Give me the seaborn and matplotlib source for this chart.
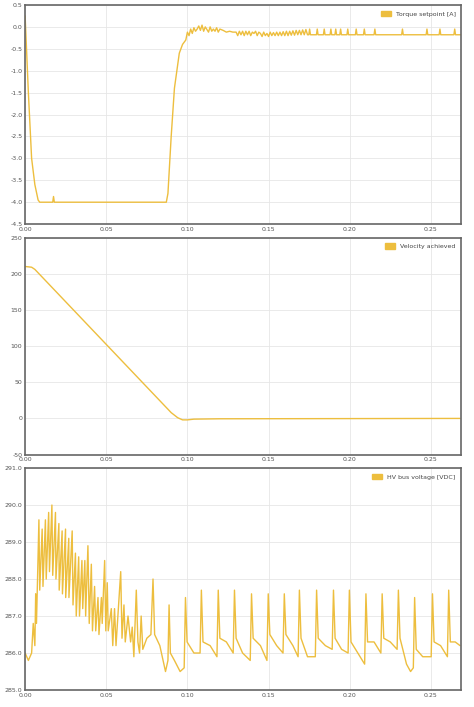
import numpy as np
import pandas as pd
import seaborn as sns
from matplotlib import pyplot as plt
from matplotlib.patches import Patch
from matplotlib.ticker import FormatStrFormatter

# ---------- DATA ----------
torque_t = [0.0, 0.002, 0.004, 0.006, 0.008, 0.009, 0.017, 0.0175, 0.018, 0.087, 0.088, 0.090, 0.092,
            0.095, 0.097, 0.099, 0.100, 0.101, 0.102, 0.103, 0.104, 0.105, 0.106, 0.107, 0.108, 0.109,
            0.110, 0.111, 0.112, 0.113, 0.114, 0.115, 0.116, 0.117, 0.118, 0.119, 0.120, 0.122, 0.124,
            0.126, 0.128, 0.130, 0.131, 0.132, 0.133, 0.134, 0.135, 0.136, 0.137, 0.138, 0.139, 0.140,
            0.141, 0.142, 0.143, 0.144, 0.145, 0.146, 0.147, 0.148, 0.149, 0.150, 0.151, 0.152, 0.153,
            0.154, 0.155, 0.156, 0.157, 0.158, 0.159, 0.160, 0.161, 0.162, 0.163, 0.164, 0.165, 0.166,
            0.167, 0.168, 0.169, 0.170, 0.171, 0.172, 0.173, 0.174,
            0.1748, 0.1753, 0.1758, 0.1795, 0.1800, 0.1805, 0.1838, 0.1843, 0.1848, 0.1879, 0.1884,
            0.1889, 0.1909, 0.1914, 0.1919, 0.1939, 0.1944, 0.1949, 0.1983, 0.1988, 0.1993, 0.2035,
            0.2040, 0.2045, 0.2085, 0.2090, 0.2095, 0.2150, 0.2155, 0.2160, 0.2320, 0.2325, 0.2330,
            0.2471, 0.2476, 0.2481, 0.2551, 0.2556, 0.2561, 0.2642, 0.2647, 0.2652, 0.2687]
torque_v = [0.25, -1.5, -3.0, -3.6, -3.95, -4.0, -4.0, -3.87, -4.0, -4.0, -3.8, -2.5, -1.4,
            -0.6, -0.4, -0.3, -0.12, -0.2, -0.05, -0.15, -0.02, -0.1, -0.05, 0.02, -0.08, 0.04,
            -0.1, 0.0, -0.06, -0.12, 0.0, -0.1, -0.05, -0.1, -0.02, -0.12, -0.05, -0.08, -0.12,
            -0.1, -0.12, -0.12, -0.2, -0.1, -0.18, -0.1, -0.2, -0.1, -0.18, -0.1, -0.2, -0.12,
            -0.15, -0.1, -0.2, -0.12, -0.15, -0.22, -0.12, -0.2, -0.15, -0.22, -0.12, -0.2, -0.13,
            -0.2, -0.12, -0.2, -0.12, -0.2, -0.11, -0.2, -0.1, -0.2, -0.1, -0.19, -0.09, -0.19,
            -0.08, -0.18, -0.08, -0.18, -0.07, -0.18, -0.06, -0.18,
            -0.18, -0.05, -0.18, -0.18, -0.05, -0.18, -0.18, -0.05, -0.18, -0.18, -0.05,
            -0.18, -0.18, -0.05, -0.18, -0.18, -0.05, -0.18, -0.18, -0.05, -0.18, -0.18,
            -0.05, -0.18, -0.18, -0.05, -0.18, -0.18, -0.05, -0.18, -0.18, -0.05, -0.18,
            -0.18, -0.05, -0.18, -0.18, -0.05, -0.18, -0.18, -0.05, -0.18, -0.18]

velocity_t = [0.0, 0.004, 0.006, 0.090, 0.094, 0.097, 0.100, 0.104, 0.120, 0.268]
velocity_v = [210, 209, 206, 8, 1, -2, -2, -1, -0.5, 0]

voltage_t = [0.000, 0.002, 0.004, 0.005, 0.006, 0.0065, 0.007, 0.0085, 0.009, 0.0105, 0.011, 0.0125,
             0.013, 0.0145, 0.015, 0.0165, 0.017, 0.0187, 0.019, 0.0208, 0.021, 0.0228, 0.023, 0.0249,
             0.025, 0.0269, 0.027, 0.029, 0.0295, 0.031, 0.0315, 0.033, 0.0335, 0.035, 0.0355, 0.0368,
             0.0373, 0.0387, 0.0395, 0.0408, 0.0415, 0.0428, 0.0435, 0.0449, 0.0455, 0.047, 0.0475,
             0.049, 0.0497, 0.0506, 0.0512, 0.0531, 0.054, 0.0551, 0.056, 0.0589, 0.0597, 0.0609,
             0.0617, 0.0634, 0.065, 0.066, 0.067, 0.0685, 0.0695, 0.0705, 0.0715, 0.0725, 0.075,
             0.0775, 0.0788, 0.0798, 0.083, 0.0865, 0.0880, 0.0887, 0.0895, 0.092, 0.0955, 0.0980,
             0.0988, 0.0998, 0.104, 0.1078, 0.1086, 0.1096, 0.114, 0.1182, 0.119, 0.120, 0.124, 0.1282,
             0.129, 0.130, 0.134, 0.1387, 0.1395, 0.1405, 0.145, 0.1490, 0.1498, 0.1508, 0.155, 0.1589,
             0.1597, 0.1607, 0.165, 0.1682, 0.169, 0.170, 0.174, 0.1788, 0.1796, 0.1806, 0.185, 0.1892,
             0.190, 0.191, 0.195, 0.1990, 0.1998, 0.2008, 0.205, 0.2092, 0.210, 0.211, 0.215, 0.2192,
             0.220, 0.221, 0.225, 0.2292, 0.230, 0.231, 0.235, 0.2375, 0.2392, 0.240, 0.241, 0.245,
             0.2502, 0.251, 0.252, 0.256, 0.2602, 0.261, 0.262, 0.265, 0.268]
voltage_v = [286.0, 285.8, 286.0, 286.8, 286.2, 287.6, 286.8, 289.6, 287.7, 289.35, 287.8, 289.6,
             288.0, 289.8, 288.2, 290.0, 288.1, 289.8, 288.0, 289.5, 287.7, 289.3, 287.6, 289.35,
             287.5, 289.1, 287.5, 289.3, 287.3, 288.7, 287.0, 288.6, 287.0, 288.5, 287.2, 288.5,
             287.0, 288.9, 286.8, 288.4, 286.6, 287.8, 286.6, 287.5, 286.5, 287.5, 286.8,
             288.5, 286.6, 287.9, 286.6, 287.2, 286.2, 287.2, 286.2, 288.2, 286.4, 287.3,
             286.3, 287.0, 286.3, 286.7, 285.9, 287.7, 286.3, 286.0, 287.0, 286.1, 286.4,
             286.5, 288.0, 286.5, 286.2, 285.5, 285.8, 287.3, 286.0, 285.8, 285.5, 285.6,
             287.5, 286.3, 286.0, 286.0, 287.7, 286.3, 286.2, 285.9, 287.7, 286.4, 286.3, 286.0,
             287.7, 286.4, 286.0, 285.8, 287.6, 286.4, 286.2, 285.8, 287.6, 286.5, 286.2, 286.0,
             287.6, 286.5, 286.2, 285.9, 287.7, 286.4, 285.9, 285.9, 287.7, 286.4, 286.2, 286.1,
             287.7, 286.4, 286.1, 286.0, 287.7, 286.3, 286.0, 285.7, 287.6, 286.3, 286.3, 286.0,
             287.6, 286.4, 286.3, 286.1, 287.7, 286.4, 285.7, 285.5, 285.6, 287.5, 286.1, 285.9,
             285.9, 287.6, 286.3, 286.2, 285.9, 287.7, 286.3, 286.3, 286.2]

panels = [
    (torque_t, torque_v, 'Torque setpoint [A]', np.arange(-4.5, 0.51, 0.5), '%.1f'),
    (velocity_t, velocity_v, 'Velocity achieved', np.arange(-50, 251, 50), '%d'),
    (voltage_t, voltage_v, 'HV bus voltage [VDC]', np.arange(285.0, 291.01, 1.0), '%.1f'),
]
x_ticks = [0.0, 0.05, 0.10, 0.15, 0.20, 0.25]

# ---------- PLOT ----------
sns.set_style('white')
plt.rcParams['font.family'] = ['DejaVu Sans']
color = '#EDBE3E'

fig = plt.figure(figsize=(4.74, 7.07), dpi=100)
boxes = [[0.053, 0.683, 0.92, 0.310], [0.053, 0.357, 0.92, 0.307], [0.053, 0.024, 0.92, 0.314]]

for (t, v, label, yt, fmt), box in zip(panels, boxes):
    ax = fig.add_axes(box)
    df = pd.DataFrame({'t': t, 'v': v})
    sns.lineplot(data=df, x='t', y='v', ax=ax, color=color, linewidth=1.0, sort=False)
    ax.set_xlim(0, 0.2687)
    ax.set_ylim(yt[0], yt[-1])
    ax.set_xticks(x_ticks)
    ax.set_yticks(yt)
    ax.xaxis.set_major_formatter(FormatStrFormatter('%.2f'))
    ax.yaxis.set_major_formatter(FormatStrFormatter(fmt))
    ax.grid(True, color='#e6e6e6', linewidth=0.6)
    ax.tick_params(labelsize=4.5, colors='#555555', length=0, pad=2)
    ax.set_xlabel('')
    ax.set_ylabel('')
    for s in ax.spines.values():
        s.set_color('#666666')
        s.set_linewidth(1.2)
    ax.legend(handles=[Patch(color=color, label=label)], loc='upper right', fontsize=4.5,
              frameon=False, handlelength=1.6, handleheight=1.0, labelcolor='#444444')

plt.savefig('out.png', dpi=100)
